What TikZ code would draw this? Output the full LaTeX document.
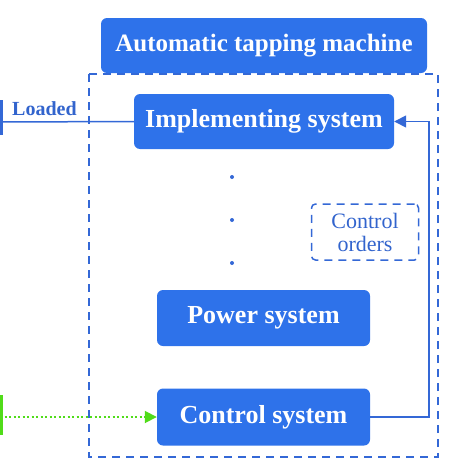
\documentclass[tikz,border=0pt]{standalone}
\usepackage{fontspec}
\setmainfont{Liberation Serif}
\usetikzlibrary{arrows.meta}
\definecolor{boxblue}{RGB}{46,114,234}
\definecolor{lineblue}{RGB}{52,104,214}
\definecolor{txtblue}{RGB}{50,100,205}
\definecolor{sigreen}{RGB}{80,220,25}
\tikzset{
  sysbox/.style={rectangle, rounded corners=6pt, fill=boxblue, text=white, inner sep=0pt, font=\fontsize{26}{28}\selectfont\bfseries},
  dashbox/.style={draw=lineblue, line width=1.5pt, dash pattern=on 8pt off 6pt},
  conn/.style={draw=lineblue, line width=1.5pt},
  tip/.style={-{Triangle[length=12pt,width=12pt]}},
  edgebar/.style={rectangle, inner sep=0pt, minimum width=3pt},
}
\begin{document}
\begin{tikzpicture}[x=1pt,y=-1pt]
\useasboundingbox (0,0) rectangle (474,474);
% outer dashed frame
\draw[dashbox] (89,74) rectangle (438,457);
\node[sysbox, minimum width=326pt, minimum height=55pt, font=\fontsize{25}{27}\selectfont\bfseries] (title) at (264,45.5) {Automatic tapping machine};
\node[sysbox, minimum width=260pt, minimum height=55pt] (impl) at (264,121.5) {Implementing system};
\node[sysbox, minimum width=213pt, minimum height=56pt] (power) at (263.5,318) {Power system};
\node[sysbox, minimum width=213pt, minimum height=57pt] (ctrl) at (263.5,417) {Control system};
\node[dashbox, rounded corners=4pt, minimum width=107pt, minimum height=56pt, inner sep=0pt, text=txtblue, align=center, font=\fontsize{22}{23}\selectfont] (orders) at (365,232) {Control\\orders};
% dots
\foreach \yy/\nm in {177/d1,220/d2,263/d3}
  \node[circle, fill=lineblue, inner sep=0pt, minimum size=4pt] (\nm) at (232,\yy) {};
% left edge bars
\node[edgebar, fill=lineblue, minimum height=35pt, anchor=west] (lbar) at (0,117.5) {};
\node[edgebar, fill=sigreen, minimum height=40pt, anchor=west] (gbar) at (0,415) {};
\coordinate (lend) at (0,122);
\coordinate (gend) at (0,417);
\node[text=txtblue, font=\fontsize{20}{22}\selectfont\bfseries, anchor=base west, inner sep=0pt] (loaded) at (12,115) {Loaded};
% connectors
\draw[conn] (impl.west) -- (lend);
\draw[conn, tip] (ctrl.east) -- (429,417) |- (impl.east);
\draw[sigreen, line width=1.8pt, dash pattern=on 2pt off 2.5pt, -{Triangle[length=12pt,width=12pt]}] (gend) -- (ctrl.west);
\end{tikzpicture}
\end{document}
